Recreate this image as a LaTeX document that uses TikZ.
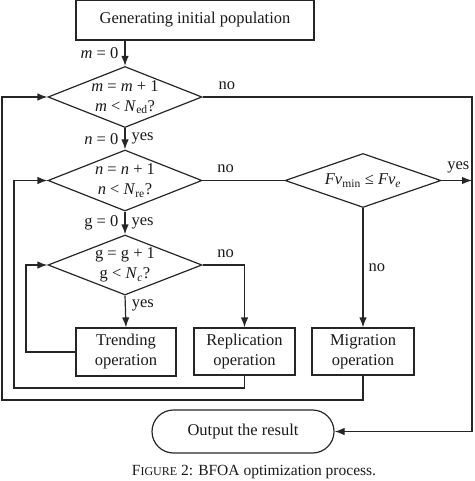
\documentclass[tikz,border=0pt]{standalone}
\usepackage{fontspec}
\setmainfont{Liberation Serif}
\usetikzlibrary{shapes.geometric,arrows.meta}
\begin{document}
\begin{tikzpicture}[x=1pt,y=-1pt,
  line width=1.2pt, draw=black!85, >={Latex[length=10pt,width=7.5pt]},
  txt/.style={font=\fontsize{16.5}{20}\selectfont, text=black!90},
  box/.style={draw, rectangle, inner sep=0pt, align=center, txt},
  dec/.style={draw, diamond, aspect=2.5, inner sep=0pt, align=center, txt},
  lbl/.style={txt, inner sep=2pt}]
\useasboundingbox (0,0) rectangle (474,481);

\node[box, minimum width=238pt, minimum height=40pt] (gen) at (195,20) {Generating initial population};
\node[dec, minimum width=154pt, minimum height=61pt] (d1) at (125,97) {\textit{m} = \textit{m} + 1\\\textit{m} < \textit{N}\textsubscript{ed}?};
\node[dec, minimum width=154pt, minimum height=61pt] (d2) at (125,180.5) {\textit{n} = \textit{n} + 1\\\textit{n} < \textit{N}\textsubscript{re}?};
\node[dec, minimum width=154pt, minimum height=60pt] (d3) at (125,265) {g = g + 1\\g < \textit{N}\textsubscript{\textit{c}}?};
\node[dec, minimum width=156pt, minimum height=54pt] (fv) at (363,180.5) {\textit{Fv}\textsubscript{min} ≤ \textit{Fv}\textsubscript{\textit{e}}};
\node[box, minimum width=100pt, minimum height=48pt] (trend) at (126,352) {Trending\\operation};
\node[box, minimum width=101pt, minimum height=47pt] (repl) at (244.5,351.5) {Replication\\operation};
\node[box, minimum width=102pt, minimum height=47pt] (migr) at (363,351.5) {Migration\\operation};
\node[box, rounded corners=21.5pt, minimum width=182pt, minimum height=43pt] (out) at (243,431.5) {Output the result};
\node[font=\fontsize{15.5}{18}\selectfont, text=black!90] (cap) at (254,472) {F{\fontsize{12}{14}\selectfont IGURE} 2: BFOA optimization process.};

\coordinate (g1) at (d1.north |- gen.south);
\coordinate (r1) at (472,97);
\coordinate (r2) at (472,431.5);
\coordinate (ry) at (472,180.5);
\coordinate (c3) at (244.5,265);
\coordinate (t1) at (26,352);
\coordinate (t2) at (26,265);
\coordinate (p1) at (244.5,388);
\coordinate (p2) at (14,388);
\coordinate (p3) at (14,180.5);
\coordinate (q1) at (363,400);
\coordinate (q2) at (2,400);
\coordinate (q3) at (2,97);

\draw[->] (g1) -- node[lbl, left=4pt, pos=0.5] {\textit{m} = 0} (d1.north);
\draw[->] (d1.south) -- node[lbl, left=4pt] {\textit{n} = 0} node[lbl, right=4pt] {yes} (d2.north);
\draw[->] (d2.south) -- node[lbl, left=4pt] {g = 0} node[lbl, right=4pt] {yes} (d3.north);
\draw[->] (d3.south) -- node[lbl, right=4pt, pos=0.3] {yes} (trend.north);
\draw[->] (d1.east) -- node[lbl, above=5pt, pos=0.09] {no} (r1) -- (r2) -- (out.east);
\draw (d2.east) -- node[lbl, above=5pt, pos=0.28] {no} (fv.west);
\draw[->] (fv.east) -- node[lbl, above=5pt, pos=0.55] {yes} (ry);
\draw[->] (fv.south) -- node[lbl, right=3pt, pos=0.5] {no} (migr.north);
\draw[->] (d3.east) -- node[lbl, above=5pt, pos=0.55] {no} (c3) -- (repl.north);
\draw[->] (trend.west) -- (t1) -- (t2) -- (d3.west);
\draw[->] (repl.south) -- (p1) -- (p2) -- (p3) -- (d2.west);
\draw[->] (migr.south) -- (q1) -- (q2) -- (q3) -- (d1.west);
\end{tikzpicture}
\end{document}
